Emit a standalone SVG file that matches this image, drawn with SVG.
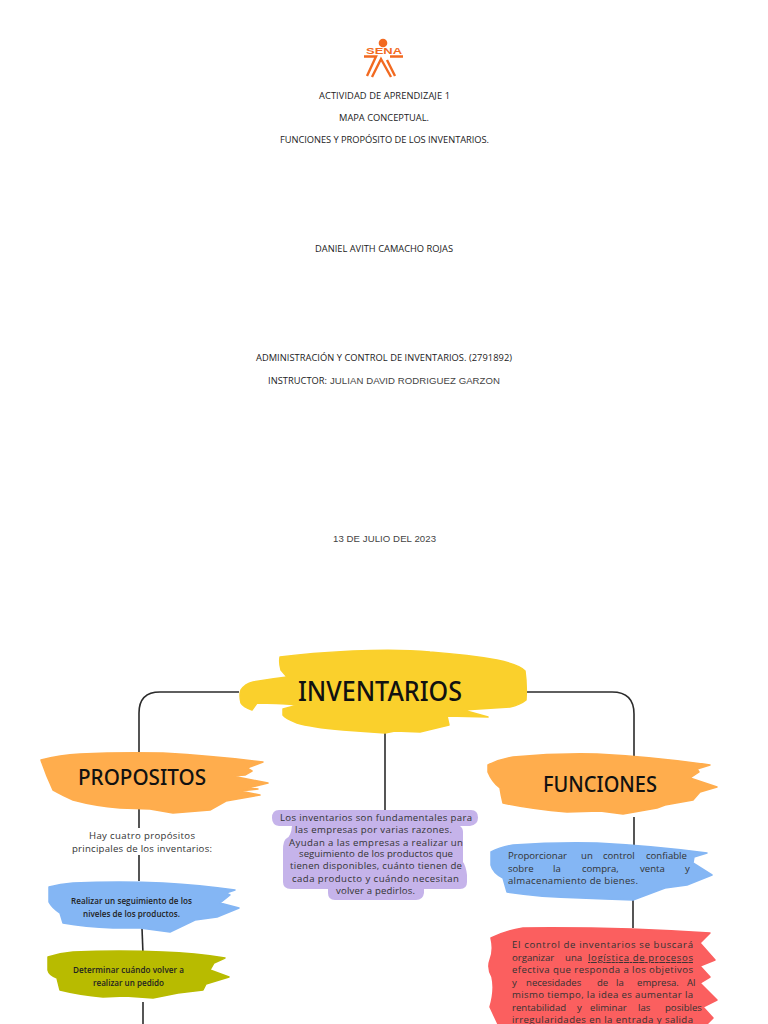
<svg xmlns="http://www.w3.org/2000/svg" width="768" height="1024" viewBox="0 0 768 1024">
<style>
.h{font:9.3px "Open Sans","Liberation Sans",sans-serif;font-weight:500;fill:#222}
.a{font:9.6px "Liberation Sans",sans-serif;fill:#444}
.t{font-family:"Noto Sans","Lato",sans-serif;font-weight:500;fill:#111}
.s{font-family:"Open Sans","Noto Sans",sans-serif;font-size:9.6px;fill:#333}
.b{font-family:"Open Sans","Noto Sans",sans-serif;font-size:8.1px;font-weight:600;fill:#222}
.c{fill:none;stroke:#2b2b2b;stroke-width:1.6}
.l{fill:none;stroke:#f26a21;stroke-width:2.4}
.br{stroke-width:1.5;stroke-linejoin:round}
</style>
<rect width="768" height="1024" fill="#fff"/>
<g id="logo">
<circle cx="383" cy="43" r="4.3" fill="#f26a21"/>
<text x="384" y="53.5" text-anchor="middle" font-family="Liberation Sans,sans-serif" font-weight="700" font-size="9" textLength="36" lengthAdjust="spacingAndGlyphs" fill="#f26a21">SENA</text>
<path class="l" d="M364 56.5H376L367 76M372 77L381 59L391 77M395 76L387 60M390 56.5H403"/>
</g>
<g id="header">
<text class="h" x="319" y="99" textLength="131">ACTIVIDAD DE APRENDIZAJE 1</text>
<text class="h" x="339" y="121" textLength="90">MAPA CONCEPTUAL.</text>
<text class="h" x="280" y="143" textLength="209">FUNCIONES Y PROPÓSITO DE LOS INVENTARIOS.</text>
<text class="h" x="315" y="252" textLength="138">DANIEL AVITH CAMACHO ROJAS</text>
<text class="h" x="256" y="361" textLength="256">ADMINISTRACIÓN Y CONTROL DE INVENTARIOS. (2791892)</text>
<text class="h" x="268" y="384" textLength="59">INSTRUCTOR:</text>
<text class="a" x="330" y="384" textLength="170">JULIAN DAVID RODRIGUEZ GARZON</text>
<text class="a" x="333" y="542" textLength="103">13 DE JULIO DEL 2023</text>
</g>
<g id="connectors">
<path class="c" d="M239 692H160Q139 692 139 713V755"/>
<path class="c" d="M527 692H612Q634 692 634 714V757"/>
<path class="c" d="M385 733V810"/>
<path class="c" d="M139 807V828M139 855V881"/>
<path class="c" d="M142 928L143 954"/>
<path class="c" d="M143 1002V1024"/>
<path class="c" d="M634 817V848"/>
<path class="c" d="M633 899V928"/>
</g>
<g id="inventarios">
<path class="br" fill="#fad02c" stroke="#fad02c" d="M280 657Q310 653 353 651Q400 649 430 652Q470 655 497 660Q520 665 525 671Q527 685 526 700Q520 705 510 707L463 710L488 717L447 716L449 725L420 732L395 731L385 733L343 730Q310 727 297 723Q285 718 283 715L283 709L298 705Q275 703 257 703L252 710Q243 707 241 703Q239 695 241 690Q245 684 253 682Q270 679 287 677L281 670Q279 663 280 657Z"/>
<text class="t" x="298" y="701" font-size="27" textLength="164" lengthAdjust="spacingAndGlyphs">INVENTARIOS</text>
</g>
<g id="propositos">
<path class="br" fill="#ffad4d" stroke="#ffad4d" d="M41 760Q60 755 80 754Q120 752 163 753Q215 756 263 762L247 768L252 771L245 775L232 776L268 783L248 788L258 789L240 791L260 795L226 801L210 810L173 813L150 809L120 808Q95 806 73 800Q62 795 53 790Q46 775 41 760Z"/>
<text class="t" x="78" y="785" font-size="22" textLength="128" lengthAdjust="spacingAndGlyphs">PROPOSITOS</text>
</g>
<g id="intro">
<text class="s" x="89" y="839" textLength="106">Hay cuatro propósitos</text>
<text class="s" x="72" y="852" textLength="140">principales de los inventarios:</text>
</g>
<g id="seguimiento">
<path class="br" fill="#84b6f4" stroke="#84b6f4" d="M49 887Q60 884 73 883Q120 881 163 883Q200 885 235 890L226 893L230 895L220 903L239 908L217 917L195 920L170 932L140 928L113 928Q85 927 63 923L60 913Q52 908 49 902Z"/>
<text class="b" x="71" y="904" textLength="121">Realizar un seguimiento de los</text>
<text class="b" x="83" y="917" textLength="97">niveles de los productos.</text>
</g>
<g id="pedido">
<path class="br" fill="#b8bb00" stroke="#b8bb00" d="M48 957Q60 953 73 952Q120 950 163 952Q195 953 225 958L214 963L210 970L229 977L206 984L203 990L178 993L153 998L125 996L103 997Q80 995 60 990L57 978Q49 975 48 970Z"/>
<text class="b" x="73" y="973" textLength="111">Determinar cuándo volver a</text>
<text class="b" x="93" y="986" textLength="71">realizar un pedido</text>
</g>
<g id="razones">
<path fill="#c5b3ea" d="M279 810H471Q478 810 478 817.5Q478 825 470 826H460Q463 828 463 832V838Q463 843 463 845V862Q466 866 467 875V882Q467 889 460 889H424V893Q423 900 416 900H335Q328 900 328 893V889H291Q283 889 283 882V850Q283 840 287 838Q291 836 292 826H279Q272 825 272 818Q272 810 279 810Z"/>
<text class="s" x="280" y="821" textLength="192">Los inventarios son fundamentales para</text>
<text class="s" x="295" y="833" textLength="157">las empresas por varias razones.</text>
<text class="s" x="289" y="845.5" textLength="174">Ayudan a las empresas a realizar un</text>
<text class="s" x="299" y="857" textLength="154">seguimiento de los productos que</text>
<text class="s" x="290" y="869" textLength="172">tienen disponibles, cuánto tienen de</text>
<text class="s" x="292" y="882" textLength="167">cada producto y cuándo necesitan</text>
<text class="s" x="336" y="894" textLength="79">volver a pedirlos.</text>
</g>
<g id="funciones">
<path class="br" fill="#ffad4d" stroke="#ffad4d" d="M488 765Q500 759 513 757Q555 753 597 754Q655 757 710 765L697 769L699 772L690 778L717 787L700 792L693 800L665 805L657 808L623 814L600 811L567 812Q530 809 503 803Q501 795 500 788Q492 782 488 772Z"/>
<text class="t" x="543" y="792" font-size="21" textLength="114" lengthAdjust="spacingAndGlyphs">FUNCIONES</text>
</g>
<g id="control">
<path class="br" fill="#84b6f4" stroke="#84b6f4" d="M491 852Q500 847 513 845Q555 842 597 843Q655 846 707 853L694 857L693 863L712 875L687 885L665 888L633 900L605 899L580 898Q540 897 507 892L503 878Q493 873 491 865Z"/>
<text class="s" y="859"><tspan x="508">Proporcionar</tspan><tspan x="581">un</tspan><tspan x="603">control</tspan><tspan x="646">confiable</tspan></text>
<text class="s" y="872"><tspan x="508">sobre</tspan><tspan x="553">la</tspan><tspan x="582">compra,</tspan><tspan x="640">venta</tspan><tspan x="685">y</tspan></text>
<text class="s" x="508" y="884" textLength="130">almacenamiento de bienes.</text>
</g>
<g id="logistica">
<path class="br" fill="#fb5f5f" stroke="#fb5f5f" d="M491 938Q505 931 523 928Q620 927 710 933L700 943L715 960L700 966L710 977L700 983L717 1000L703 1007L713 1018L707 1024H498L490 1007Q495 990 492 977Q487 968 490 960Q494 950 491 938Z"/>
<text class="s" x="512" y="948" textLength="181">El control de inventarios se buscará</text>
<text class="s" y="961"><tspan x="512">organizar</tspan><tspan x="565">una</tspan><tspan x="588" text-decoration="underline" textLength="105">logística de procesos</tspan></text>
<text class="s" x="512" y="973" textLength="181">efectiva que responda a los objetivos</text>
<text class="s" y="986"><tspan x="512">y</tspan><tspan x="526">necesidades</tspan><tspan x="597">de</tspan><tspan x="616">la</tspan><tspan x="637">empresa.</tspan><tspan x="687">Al</tspan></text>
<text class="s" x="512" y="998" textLength="181">mismo tiempo, la idea es aumentar la</text>
<text class="s" y="1011"><tspan x="512">rentabilidad</tspan><tspan x="577">y</tspan><tspan x="590">eliminar</tspan><tspan x="638">las</tspan><tspan x="665">posibles</tspan></text>
<text class="s" x="512" y="1023" textLength="181">irregularidades en la entrada y salida</text>
</g>
</svg>
